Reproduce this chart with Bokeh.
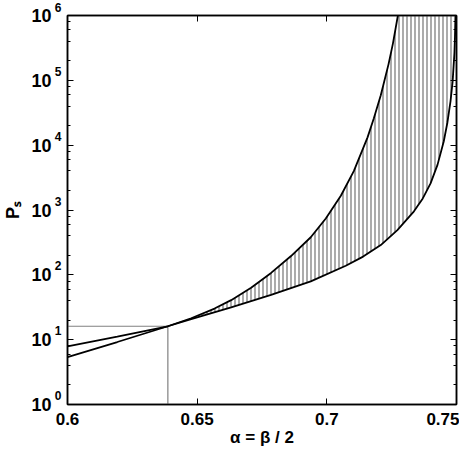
from bokeh.plotting import figure
from bokeh.models import LogAxis, LinearAxis, FixedTicker, LogTicker, CustomJSTickFormatter
from bokeh.embed import file_html
from bokeh.resources import INLINE

# ---- data ----
upper_alpha = [0.6000, 0.6192, 0.6387, 0.6477, 0.6567, 0.6631, 0.6708, 0.6785, 0.6862,
               0.6938, 0.6996, 0.7054, 0.7104, 0.7157, 0.7181, 0.7208, 0.7238, 0.7255, 0.7274]
upper_ps = [7.85, 11.1, 16.1, 21.4, 30.2, 40.7, 63.1, 107, 195,
            380, 741, 1660, 3980, 13200, 25700, 58900, 178000, 372000, 1.0e6]

lower_alpha = [0.6000, 0.6192, 0.6387, 0.6477, 0.6631, 0.6785, 0.6938, 0.7073, 0.7140,
               0.7208, 0.7272, 0.7336, 0.7370, 0.7400, 0.7427, 0.7451, 0.7465, 0.7477,
               0.7485, 0.7492, 0.7497]
lower_ps = [5.37, 9.20, 16.1, 20.8, 31.6, 49.0, 79.4, 138, 191,
            288, 490, 955, 1510, 2570, 5010, 11500, 22400, 47900,
            95500, 263000, 1.0e6]

cross_alpha = 0.6387
cross_ps = 16.1

x_ticks = [0.6, 0.65, 0.7, 0.75]
y_exponents = [0, 1, 2, 3, 4, 5, 6]
y_base = "10"

FONT = "Liberation Sans"

p = figure(frame_width=389, frame_height=389,
           min_border_left=66, min_border_right=3, min_border_top=15, min_border_bottom=30,
           x_range=(0.6, 0.75), y_range=(1, 1e6), y_axis_type="log",
           output_backend="svg", toolbar_location=None)
p.background_fill_color = "white"
p.border_fill_color = "white"
p.grid.visible = False
p.outline_line_color = "black"
p.outline_line_width = 1.5

blank = CustomJSTickFormatter(code="return ''")

# bottom axis
xa = p.xaxis[0]
xa.ticker = FixedTicker(ticks=x_ticks)
xa.major_tick_in = 6
xa.major_tick_out = 0
xa.minor_tick_line_color = None
xa.axis_line_width = 1.5
xa.major_label_text_font = FONT
xa.major_label_text_font_style = "bold"
xa.major_label_text_font_size = "17px"
xa.major_label_text_color = "black"
xa.major_label_standoff = 8
xa.axis_label = "α = β / 2"
xa.axis_label_text_font = FONT
xa.axis_label_text_font_style = "bold"
xa.axis_label_text_font_size = "17px"
xa.axis_label_text_color = "black"
xa.axis_label_standoff = 0

# left axis (ticks + exponents)
exp_map = {10 ** k: f"{k}\n " for k in y_exponents}
base_map = {10 ** k: y_base for k in y_exponents}

ya = p.yaxis[0]
ya.ticker = LogTicker()
ya.major_label_overrides = exp_map
ya.major_label_text_font = FONT
ya.major_label_text_font_style = "bold"
ya.major_label_text_font_size = "12px"
ya.major_label_text_color = "black"
ya.major_label_standoff = 6
ya.major_tick_in = 6
ya.major_tick_out = 0
ya.minor_tick_in = 3
ya.minor_tick_out = 0
ya.axis_line_width = 1.5

# outer left axis carrying the "10" part and the axis title
oa = LogAxis(ticker=LogTicker(), major_label_overrides=base_map,
             major_label_text_font=FONT, major_label_text_font_style="bold",
             major_label_text_font_size="18px", major_label_text_color="black",
             major_label_standoff=0, major_tick_line_color=None, minor_tick_line_color=None,
             major_tick_in=0, major_tick_out=0, minor_tick_in=0, minor_tick_out=0,
             axis_line_color=None,
             axis_label="Pₛ", axis_label_text_font=FONT, axis_label_text_font_style="bold",
             axis_label_text_font_size="18px", axis_label_text_color="black",
             axis_label_standoff=5)
p.add_layout(oa, "left")

# right & top axes (ticks only)
ra = LogAxis(ticker=LogTicker(), formatter=blank, major_label_text_font_size="0px",
             major_label_standoff=0, major_tick_in=6, major_tick_out=0,
             minor_tick_in=3, minor_tick_out=0, axis_line_width=1.5)
p.add_layout(ra, "right")
ta = LinearAxis(ticker=FixedTicker(ticks=x_ticks), formatter=blank,
                major_label_text_font_size="0px", major_label_standoff=0,
                major_tick_in=6, major_tick_out=0, minor_tick_line_color=None,
                axis_line_width=1.5)
p.add_layout(ta, "above")

# hatched region between curves (right of crossover)
i_u = upper_alpha.index(cross_alpha)
i_l = lower_alpha.index(cross_alpha)
px = upper_alpha[i_u:] + lower_alpha[i_l:][::-1]
py = upper_ps[i_u:] + lower_ps[i_l:][::-1]
p.patch(px, py, fill_alpha=0, line_alpha=0,
        hatch_pattern="vertical_line", hatch_scale=4, hatch_color="#666666",
        hatch_weight=1.1)

# reference lines
p.line([0.6, cross_alpha], [cross_ps, cross_ps], line_color="#808080", line_width=1.2)
p.line([cross_alpha, cross_alpha], [1, cross_ps], line_color="#808080", line_width=1.2)

# curves
p.line(upper_alpha, upper_ps, line_color="black", line_width=1.8)
p.line(lower_alpha, lower_ps, line_color="black", line_width=1.8)

open("out.html", "w").write(file_html(p, INLINE))
